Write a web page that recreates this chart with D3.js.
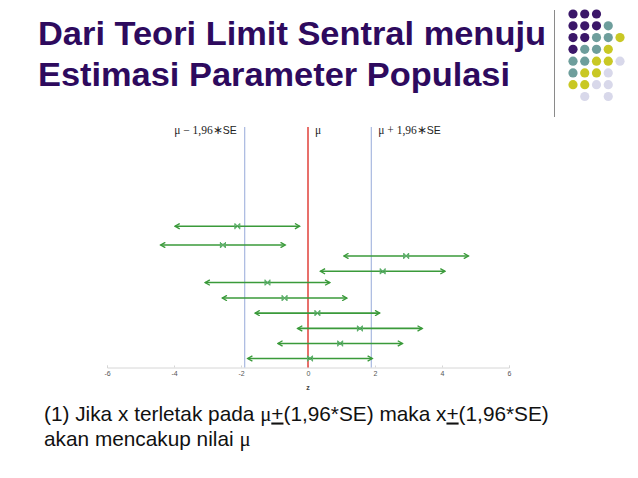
<!DOCTYPE html>
<html><head><meta charset="utf-8">
<script src="https://cdn.jsdelivr.net/npm/d3@7/dist/d3.min.js"></script>
<style>
html,body{margin:0;padding:0;background:#fff;}
svg{display:block;}
</style></head>
<body>
<svg id="c" width="638" height="478"></svg>
<script>
// ---- data ----
const titleLines = ["Dari Teori Limit Sentral menuju", "Estimasi Parameter Populasi"];
const sampleMeans = [-2.11, -2.54, 2.93, 2.23, -1.21, -0.70, 0.28, 1.55, 0.96, 0.06];
const sampleRows  = [9.4, 8.15, 7.42, 6.4, 5.65, 4.62, 3.62, 2.6, 1.6, 0.6];
const halfWidth = 1.86;
const refLines = [-1.89, 0, 1.89];
const refLabels = ["μ − 1,96∗", "μ", "μ + 1,96∗"];
const xTicks = [-6, -4, -2, 0, 2, 4, 6];
const xLabel = "z";
const dotColors = ["#3b1769", "#6e9e9c", "#c9c824", "#d8d8ea"];
const dotRows = [
  [0,0,0,null,null],
  [0,0,0,1,null],
  [0,0,1,1,2],
  [0,1,1,2,null],
  [1,1,2,2,3],
  [1,2,2,3,null],
  [2,2,3,3,null],
  [null,3,null,3,null]
];

const svg = d3.select("#c");
const serif = "Liberation Serif, Times New Roman, serif";
const sans = "Liberation Sans, Arial, sans-serif";

// ---- decoration: dots & separator ----
const dx = d3.scaleLinear().domain([0,4]).range([573, 620]);
const dy = d3.scaleLinear().domain([0,7]).range([14, 96.5]);
dotRows.forEach((row, r) => {
  row.forEach((c, i) => {
    if (c === null) return;
    svg.append("circle").attr("cx", dx(i)).attr("cy", dy(r)).attr("r", 4.6).attr("fill", dotColors[c]);
  });
});
svg.append("line").attr("x1", 554.5).attr("x2", 554.5).attr("y1", 10).attr("y2", 117)
  .attr("stroke", "#8a8a8a").attr("stroke-width", 1);

// ---- title ----
const titleWidths = [508, 472];
svg.selectAll("text.title").data(titleLines).join("text")
  .attr("class", "title")
  .attr("x", 38).attr("y", (d, i) => 45 + i * 40.5)
  .attr("font-family", sans)
  .attr("font-weight", "bold").attr("font-size", 33.5)
  .attr("fill", "#2e0a5e")
  .attr("textLength", (d, i) => titleWidths[i]).attr("lengthAdjust", "spacingAndGlyphs")
  .text(d => d);

// ---- chart ----
const x = d3.scaleLinear().domain([-6, 6]).range([107, 509]);
const y = d3.scaleLinear().domain([0, 16]).range([367.5, 127]);

// axis
const axis = d3.axisBottom(x).tickValues(xTicks).tickSize(-2).tickPadding(5).tickFormat(d => String(d));
const gAxis = svg.append("g").attr("transform", `translate(0,${y(0)})`).call(axis);
gAxis.select(".domain").attr("stroke", "#d6d6d6");
gAxis.selectAll(".tick line").attr("stroke", "#d6d6d6");
gAxis.selectAll(".tick text").attr("font-family", sans)
  .attr("font-size", 7).attr("fill", "#555").attr("dy", "0.5em");
svg.append("text").attr("x", x(0)).attr("y", 390).attr("text-anchor", "middle")
  .attr("font-family", sans).attr("font-size", 7).attr("font-weight", "bold")
  .attr("fill", "#444").text(xLabel);

// reference lines
svg.selectAll("line.ref").data(refLines).join("line")
  .attr("class", "ref")
  .attr("x1", d => x(d)).attr("x2", d => x(d))
  .attr("y1", y(16)).attr("y2", y(0))
  .attr("stroke", d => d === 0 ? "#e0403a" : "#a8b8e0")
  .attr("stroke-width", d => d === 0 ? 1.5 : 1.2);

// ref labels
refLines.forEach((v, i) => {
  const t = svg.append("text")
    .attr("x", i === 0 ? x(v) - 8 : x(v) + 7)
    .attr("y", 134)
    .attr("text-anchor", i === 0 ? "end" : "start")
    .attr("font-size", 11.5).attr("fill", "#222");
  t.append("tspan").attr("font-family", serif).text(refLabels[i]);
  if (i !== 1) t.append("tspan").attr("font-family", sans).attr("font-size", 10.5).text("SE");
});

// arrow markers
const green = "#3a9a3a";
const defs = svg.append("defs");
defs.append("marker").attr("id", "arr")
  .attr("viewBox", "0 0 10 10").attr("refX", 8).attr("refY", 5)
  .attr("markerWidth", 4.2).attr("markerHeight", 4.2).attr("markerUnits", "strokeWidth")
  .attr("orient", "auto-start-reverse")
  .append("path").attr("d", "M1,1 L8,5 L1,9").attr("fill", "none")
  .attr("stroke", green).attr("stroke-width", 2);

const intervals = sampleMeans.map((m, i) => ({ m, r: sampleRows[i] }));
svg.selectAll("line.ci").data(intervals).join("line")
  .attr("class", "ci")
  .attr("x1", d => x(d.m - halfWidth)).attr("x2", d => x(d.m + halfWidth))
  .attr("y1", d => y(d.r)).attr("y2", d => y(d.r))
  .attr("stroke", green).attr("stroke-width", 1.6)
  .attr("marker-start", "url(#arr)").attr("marker-end", "url(#arr)");

// center markers
const mk = svg.selectAll("g.mk").data(intervals).join("g")
  .attr("class", "mk")
  .attr("transform", d => `translate(${x(d.m)},${y(d.r)})`);
mk.append("path").attr("d", "M-2.5,-2.5 L2.5,2.5 M-2.5,2.5 L2.5,-2.5 M-2.5,-3 L-2.5,3 M2.5,-3 L2.5,3")
  .attr("stroke", "#5cae6a").attr("stroke-width", 1.1).attr("fill", "none");

// ---- bottom text ----
const bt = svg.append("g").attr("font-family", sans).attr("font-size", 20.8).attr("fill", "#111");
const l1 = bt.append("text").attr("x", 44).attr("y", 420.5);
l1.append("tspan").text("(1) Jika x terletak pada ");
l1.append("tspan").attr("font-family", serif).text("μ");
l1.append("tspan").attr("text-decoration", "underline").text("+");
l1.append("tspan").text("(1,96*SE) maka x");
l1.append("tspan").attr("text-decoration", "underline").text("+");
l1.append("tspan").text("(1,96*SE)");
const l2 = bt.append("text").attr("x", 44).attr("y", 445.5);
l2.append("tspan").text("akan mencakup nilai ");
l2.append("tspan").attr("font-family", serif).text("μ");
</script>
</body></html>
